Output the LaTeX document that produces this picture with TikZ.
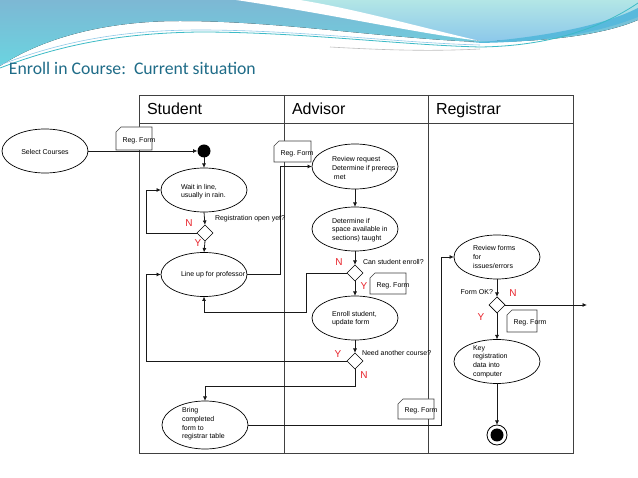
\documentclass[tikz,border=0pt]{standalone}
\usepackage{fontspec}
\setmainfont{Liberation Sans}
\newfontfamily\titlefont{Carlito}
\usetikzlibrary{arrows.meta,shapes.geometric}
\frenchspacing
\definecolor{ttl}{HTML}{1F6C88}
\definecolor{redl}{HTML}{E8232B}
\definecolor{wvA}{HTML}{7DB8D4}
\definecolor{wvB}{HTML}{6AD4E0}
\definecolor{aqA}{HTML}{B3E6E6}
\definecolor{aqB}{HTML}{8CC8EA}
\definecolor{band}{HTML}{58B9DC}
\definecolor{thinA}{HTML}{3DBBC6}
\definecolor{thinB}{HTML}{8FC9E8}
\newcommand{\regform}[5]{%
  \draw[docline] (#2,#3+5) -- (#2+5,#3) -- (#4,#3) -- (#4,#5) -- (#2,#5) -- cycle;
  \node[lbl] (#1) at (#2+6.5,{(#3+#5)/2+2}) {Reg. Form};}
\begin{document}
\begin{tikzpicture}[x=1pt,y=-1pt,
  every node/.style={inner sep=0pt,outer sep=0pt},
  act/.style={draw=black,line width=0.7pt,ellipse,minimum width=86pt,minimum height=44pt,fill=white},
  txt/.style={font=\fontsize{7}{8.6}\selectfont,align=left,anchor=west},
  lbl/.style={font=\fontsize{7}{8.6}\selectfont,anchor=west},
  yn/.style={font=\fontsize{10}{12}\selectfont,text=redl},
  dec/.style={draw,diamond,minimum width=16pt,minimum height=16pt,aspect=1,fill=white,line width=0.7pt},
  docline/.style={draw=black!75,line width=0.6pt,fill=white},
  conn/.style={line width=0.8pt,draw=black!90,-{Latex[length=4.5pt,width=4pt]}},
  lane/.style={draw=black!75,line width=0.8pt},
  lanehead/.style={font=\fontsize{16}{18}\selectfont,anchor=base west}]
\useasboundingbox (0,0) rectangle (638,478);
\fill[white] (0,0) rectangle (638,478);
% header waves
\fill[top color=wvA,bottom color=wvB] (0,0) -- (638,0) -- (638,20) .. controls (610,32) and (560,42) .. (480,42) .. controls (380,38) and (280,21) .. (180,21) .. controls (100,21) and (40,40) .. (0,66) -- cycle;
\fill[top color=aqA,bottom color=aqB] (285,0) .. controls (350,12) and (420,30) .. (480,41) .. controls (560,41) and (610,25) .. (638,12) -- (638,0) -- cycle;
\fill[white] (236,0) .. controls (330,14) and (410,32) .. (480,41) .. controls (420,27) and (355,9) .. (300,0) -- cycle;
\fill[band] (470,43) .. controls (560,43) and (610,28) .. (638,17) -- (638,8) .. controls (610,22) and (560,36) .. (470,43) -- cycle;
\draw[thinB,line width=0.6pt] (0,65) .. controls (60,42) and (120,30) .. (200,30) .. controls (300,30) and (400,43) .. (480,45);
\draw[thinA,line width=0.8pt] (0,68) .. controls (60,45) and (120,33) .. (200,32) .. controls (300,32) and (400,45) .. (480,47) .. controls (560,46) and (610,22) .. (638,3);
\draw[black!25,line width=0.6pt] (330,47) .. controls (400,51) and (440,51) .. (480,49);
\node[anchor=base west,font=\titlefont\fontsize{17.7}{20}\selectfont,text=ttl] (title) at (9,75) {Enroll in Course: \ Current situation};
% swimlanes
\draw[lane] (139,95) rectangle (573,453);
\draw[lane] (139,123) -- (573,123);
\draw[lane] (284,95) -- (284,453);
\draw[lane] (428,95) -- (428,453);
\node[lanehead] (hstu) at (147,115) {Student};
\node[lanehead] (hadv) at (292,115) {Advisor};
\node[lanehead] (hreg) at (436,115) {Registrar};
% activities
\node[act] (sel) at (45,151) {};
\node[txt,anchor=center] (selt) at (45,152) {Select Courses};
\node[circle,fill=black,minimum size=13pt] (start) at (204,151) {};
\node[act] (wait) at (204,190) {};
\node[txt] (waitt) at (181,191.5) {Wait in line,\\usually in rain.};
\node[dec] (d1) at (205,233) {};
\node[act] (lineup) at (204,274.5) {};
\node[txt] (lineupt) at (181,275) {Line up for professor};
\node[act,minimum height=45pt] (rev) at (355,166.5) {};
\node[txt] (revt) at (332,168) {Review request\\Determine if prereqs\\\ met};
\node[act] (det) at (355,229) {};
\node[txt] (dett) at (332,230) {Determine if\\space available in\\sections) taught};
\node[dec] (d2) at (355,273) {};
\node[act] (enr) at (355,318) {};
\node[txt] (enrt) at (332,318.5) {Enroll student,\\update form};
\node[dec] (d3) at (355,361) {};
\node[act,minimum height=48pt] (bring) at (205,425) {};
\node[txt] (bringt) at (182,424) {Bring\\completed\\form to\\registrar table};
\node[act] (revf) at (497,257) {};
\node[txt] (revft) at (473,257) {Review forms\\for\\issues/errors};
\node[dec] (d4) at (497,305) {};
\node[act] (key) at (497,361.5) {};
\node[txt] (keyt) at (473,361.5) {Key\\registration\\data into\\computer};
\node[circle,draw=black,line width=0.8pt,fill=white,minimum size=20pt] (endo) at (497,435) {};
\node[circle,fill=black,minimum size=13pt] (endi) at (497,435) {};
\coordinate (formout) at (587,305);
% connectors
\draw[conn] (sel.east) -- (start.west);
\draw[conn] (start.south) -- (wait.north);
\draw[conn] (wait.south) -- (d1.north);
\draw[conn] (d1.south) -- (lineup.north);
\draw[conn] (d1.west) -- ++(-51,0) |- (wait.west);
\draw[conn] (lineup.east) -- ++(33,0) |- (rev.west);
\draw[conn] (rev.south) -- (det.north);
\draw[conn] (det.south) -- (d2.north);
\draw[conn] (d2.south) -- (enr.north);
\draw[conn] (d2.west) -- ++(-41,0) -- ++(0,39) -| (lineup.south);
\draw[conn] (enr.south) -- (d3.north);
\draw[conn] (d3.west) -- ++(-201,0) |- (lineup.west);
\draw[conn] (d3.south) -- ++(0,17) -| (bring.north);
\draw[conn] (bring.east) -- ++(193,0) |- (revf.west);
\draw[conn] (revf.south) -- (d4.north);
\draw[conn] (d4.east) -- (formout);
\draw[conn] (d4.south) -- (key.north);
\draw[conn] (key.south) -- (endo.north);
% documents
\regform{rf1}{116}{127}{152}{150}
\regform{rf2}{274}{141}{311}{162}
\regform{rf3}{370}{273}{406}{294}
\regform{rf4}{398}{399}{434}{419}
\regform{rf5}{507}{310}{537}{332}
% guards and labels
\node[lbl] (q1) at (215,218.5) {Registration open yet?};
\node[lbl] (q2) at (363,262) {Can student enroll?};
\node[lbl] (q3) at (362,353) {Need another course?};
\node[lbl,anchor=east] (q4) at (493,292) {Form OK?};
\node[yn] (n1) at (189,223) {N};
\node[yn] (y1) at (198,243) {Y};
\node[yn] (n2) at (339,262) {N};
\node[yn] (y2) at (364,286) {Y};
\node[yn] (y3) at (338,354) {Y};
\node[yn] (n3) at (364,375) {N};
\node[yn] (n4) at (513,293) {N};
\node[yn] (y4) at (481,317) {Y};
\end{tikzpicture}
\end{document}
